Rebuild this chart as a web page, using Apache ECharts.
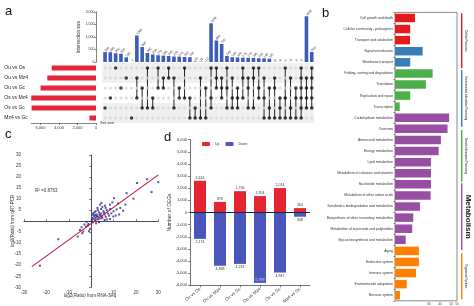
<!DOCTYPE html>
<html>
<head>
<meta charset="utf-8">
<script src="https://cdn.jsdelivr.net/npm/echarts@6/dist/echarts.min.js"></script>
<style>
  html, body { margin: 0; padding: 0; background: #fff; }
  #main { width: 474px; height: 306px; }
</style>
</head>
<body>
<div id="main"></div>
<script>
// ---- panel a : upset ----
var setNames = ['Ou vs Os', 'Ou vs Mz4', 'Ou vs Gc', 'Os vs Mz4', 'Os vs Gc', 'Mz4 vs Gc'];
var setSizes = [4790, 5264, 5989, 7153, 6961, 712];
var interSizes = [395, 390, 350, 330, 185, 1,
  1060, 600, 360, 300, 270, 255, 240, 220, 215, 200, 190, 20, 15, 10,
  1548, 860, 720, 240, 190, 180, 175, 170, 165, 150, 145, 130, 8, 6, 5, 4, 3, 2, 1828, 400];
var interSets = [[4], [3], [0], [2], [1], [5],
  [1, 3], [2, 4], [0, 4], [3, 4], [0, 2], [1, 2], [0, 1], [1, 4], [2, 3], [0, 3], [3, 5], [4, 5], [1, 5], [2, 5],
  [0, 3, 4], [0, 1, 2], [1, 2, 3], [0, 2, 4], [1, 3, 4], [2, 3, 4], [0, 1, 3], [1, 2, 4], [0, 1, 4], [0, 2, 3], [1, 3, 5], [2, 4, 5],
  [1, 2, 5], [3, 4, 5], [0, 3, 5], [1, 4, 5], [2, 3, 5], [0, 1, 2, 3, 4, 5], [1, 2, 3, 4], [0, 1, 2, 3, 4]];

// ---- panel b : KEGG ----
var keggTerms = ['Cell growth and death', 'Cellular community - prokaryotes', 'Transport and catabolism',
  'Signal transduction', 'Membrane transport',
  'Folding, sorting and degradation', 'Translation', 'Replication and repair', 'Transcription',
  'Carbohydrate metabolism', 'Overview', 'Amino acid metabolism', 'Energy metabolism', 'Lipid metabolism',
  'Metabolism of cofactors and vitamins', 'Nucleotide metabolism', 'Metabolism of other amino acids',
  'Xenobiotics biodegradation and metabolism', 'Biosynthesis of other secondary metabolites',
  'Metabolism of terpenoids and polyketides', 'Glycan biosynthesis and metabolism',
  'Aging', 'Endocrine system', 'Immune system', 'Environmental adaptation', 'Nervous system'];
var keggValues = [17.7, 13.5, 13.3, 24.5, 13.5, 33.4, 27.4, 13.5, 4.2, 48, 46.6, 40.7, 38.7, 31.9, 31.9, 31.9, 31.6,
  22.1, 16.2, 15.3, 9.5, 21.2, 21.2, 18.6, 10.4, 4.4];
var keggGroup = [0, 0, 0, 1, 1, 2, 2, 2, 2, 3, 3, 3, 3, 3, 3, 3, 3, 3, 3, 3, 3, 4, 4, 4, 4, 4];
var groupNames = ['Cellular Processes', 'Environmental Information Processing', 'Genetic Information Processing', 'Metabolism', 'Organismal Systems'];
var groupColors = ['#e41a1c', '#377eb8', '#4daf4a', '#984ea3', '#ff7f00'];

// ---- panel c : qRT-PCR vs RNA-Seq ----
var scatterPts = [[25, 19], [20.5, 17.3], [30, 17.7], [27, 13.2], [15.8, 12.7], [18.9, 10.2], [10.2, 10.4], [14.3, 4.7],
  [15.3, 7.5], [11.4, 5.3], [8.4, 7.5], [4.6, 8.3], [9.9, 2.1], [8.4, 1], [12, 8], [-22.9, -20.2], [-14.7, -8.2],
  [-6, -7], [-3.5, -4.7], [-4.3, -2.8], [-2.3, -2.5], [-1.2, -1.3], [-2, -0.3], [-0.5, -3.5], [-3, -1.5], [-5, -4],
  [-1.5, -2], [1, 1], [1.5, 2], [2, 1.5], [2.5, 3], [3, 2], [3.5, 4], [4, 2.5], [4.5, 3.5], [5, 1.5], [5.5, 4.5],
  [6, 3], [6.5, 2], [7, 5], [7.5, 3.5], [8, 2.5], [2, 4.5], [3, 5], [1, 3.5], [0.5, 1.5], [1.8, 0.5], [3.2, 0.8],
  [4.2, 1.2], [6, 0.5], [2.8, 6], [5, 6.5], [4, 7.5], [6.5, 6], [0.8, -0.5], [2.2, -1], [3.5, -0.5], [7, 0.8],
  [9, 3.5], [10, 4.5], [12.5, 3], [8.5, 5.5], [1.2, 2.6], [2.6, 2.2], [3.8, 3.1], [4.8, 2.2], [5.8, 3.8], [1.5, 4],
  [0.3, 0.5], [2, 2.8], [9.5, 8.5], [13, 6], [-1, -4.5], [-4, -5.5], [0.5, 3], [4.5, 5.5], [6.2, 7], [11, 2.5]];
var fitLine = [[-26.5, -20.6], [30, 21]];
var r2Text = 'R\u00b2 =0.8763';

// ---- panel d : DEG counts ----
var compNames = ['Ou vs Os', 'Ou vs Mz4', 'Ou vs Gc', 'Os vs Mz4', 'Os vs Gc', 'Mz4 vs Gc'];
var upCounts = [2616, 876, 1756, 1354, 2014, 364];
var downCounts = [-2174, -4388, -4233, -5799, -4947, -348];

var FONT = 'Liberation Sans, Arial, sans-serif';
var chart = echarts.init(document.getElementById('main'));

var colIdx = interSizes.map(function (v, i) { return i; });
var greyDots = [], blackDots = [], links = [];
interSets.forEach(function (s, c) {
  for (var r = 0; r < 6; r++) {
    if (s.indexOf(r) < 0) greyDots.push([c, r]); else blackDots.push([c, r]);
  }
  if (s.length > 1) links.push([c, Math.min.apply(null, s), Math.max.apply(null, s)]);
});

function fmt(v) { return Math.abs(v).toLocaleString('en-US'); }

var option = {
  animation: false,
  backgroundColor: '#fff',
  textStyle: { fontFamily: FONT },
  legend: {
    data: ['Up', 'Down'], left: 197, top: 137, itemWidth: 8, itemHeight: 4, itemGap: 6,
    textStyle: { fontSize: 3.5, color: '#333', fontFamily: FONT }
  },
  grid: [
    { left: 102.4, top: 12, width: 212, height: 50 },
    { left: 102.4, top: 63, width: 212, height: 60 },
    { left: 31.25, top: 63, width: 64.75, height: 60 },
    { left: 24, top: 155, width: 134.3, height: 132.3 },
    { left: 190, top: 139.7, width: 120, height: 152 },
    { left: 395, top: 12.4, width: 62, height: 288.4, show: true, borderColor: '#555', borderWidth: 0.7 }
  ],
  xAxis: [
    { gridIndex: 0, type: 'category', data: colIdx, axisLabel: { show: false }, axisTick: { show: false },
      axisLine: { show: false } },
    { gridIndex: 1, type: 'category', data: colIdx, show: false },
    { gridIndex: 2, type: 'value', inverse: true, min: 0, max: 7000, interval: 2000,
      name: 'Set size', nameLocation: 'start', nameGap: 4,
      nameTextStyle: { fontSize: 4, color: '#333', verticalAlign: 'middle' },
      axisLine: { show: true, lineStyle: { color: '#333', width: 0.6 } },
      axisTick: { show: true, length: 2, lineStyle: { color: '#333', width: 0.6 } },
      axisLabel: { fontSize: 4, color: '#333', margin: 3, showMaxLabel: false }, splitLine: { show: false } },
    { gridIndex: 3, type: 'value', min: -30, max: 30, interval: 10,
      axisLine: { onZero: true, lineStyle: { color: '#222', width: 0.8 } },
      axisTick: { show: true, length: 2, inside: true, lineStyle: { color: '#222', width: 0.6 } },
      axisLabel: { fontSize: 4.5, color: '#333', margin: 3, formatter: function (v) { return v === 0 ? '' : v; } },
      splitLine: { show: false } },
    { gridIndex: 4, type: 'category', data: compNames, position: 'bottom',
      axisLine: { onZero: false, lineStyle: { color: '#333', width: 0.7 } },
      axisTick: { show: true, alignWithLabel: true, length: 2, lineStyle: { color: '#333', width: 0.6 } },
      axisLabel: { fontSize: 4.5, color: '#333', rotate: 40, margin: 3, interval: 0 } },
    { gridIndex: 5, type: 'value', min: 0, max: 55, interval: 10,
      axisLine: { show: false }, axisTick: { show: false },
      axisLabel: { fontSize: 3.2, color: '#444', margin: 2, formatter: function (v) { return v < 30 ? '' : v; } },
      splitLine: { show: false } }
  ],
  yAxis: [
    { gridIndex: 0, type: 'value', min: 0, max: 2000, interval: 500, offset: 6,
      name: 'Intersection size', nameLocation: 'middle', nameGap: 13,
      nameTextStyle: { fontSize: 4.5, color: '#333' },
      axisLine: { show: true, lineStyle: { color: '#333', width: 0.6 } },
      axisTick: { show: true, length: 2, lineStyle: { color: '#333', width: 0.6 } },
      axisLabel: { fontSize: 3.5, color: '#333', margin: 2 }, splitLine: { show: false } },
    { gridIndex: 1, type: 'category', data: setNames, inverse: true,
      axisLine: { show: false }, axisTick: { show: false }, axisLabel: { show: false },
      splitArea: { show: true, areaStyle: { color: ['#f0f0f0', '#ffffff'] } } },
    { gridIndex: 2, type: 'category', data: setNames, inverse: true,
      axisLine: { show: false }, axisTick: { show: false },
      axisLabel: { fontSize: 5, color: '#222', align: 'left', margin: 27 } },
    { gridIndex: 3, type: 'value', min: -30, max: 30, interval: 5,
      axisLine: { onZero: true, lineStyle: { color: '#222', width: 0.8 } },
      axisTick: { show: true, length: 2, lineStyle: { color: '#222', width: 0.6 } },
      axisLabel: { fontSize: 4.5, color: '#333', margin: 3, formatter: function (v) { return v === 0 ? '' : v; } },
      splitLine: { show: false } },
    { gridIndex: 4, type: 'value', min: -6000, max: 6000, interval: 1000,
      name: 'Number of DEGs', nameLocation: 'middle', nameGap: 17,
      nameTextStyle: { fontSize: 5, color: '#333' },
      axisLine: { show: true, lineStyle: { color: '#333', width: 0.7 } },
      axisTick: { show: true, length: 2, lineStyle: { color: '#333', width: 0.6 } },
      axisLabel: { fontSize: 4, color: '#333', margin: 3, formatter: function (v) { return v.toLocaleString('en-US'); } },
      splitLine: { show: false } },
    { gridIndex: 5, type: 'category', data: keggTerms, inverse: true,
      axisLine: { show: false },
      axisTick: { show: true, length: 1.5, lineStyle: { color: '#333', width: 0.6 } },
      axisLabel: { fontSize: 3.4, color: '#333', margin: 2, interval: 0 } }
  ],
  series: [
    { type: 'bar', xAxisIndex: 0, yAxisIndex: 0, data: interSizes, barWidth: 3.6,
      itemStyle: { color: '#3d5bb8' },
      label: { show: true, position: 'top', rotate: 45, align: 'left', verticalAlign: 'middle', distance: 1,
        fontSize: 3.2, color: '#333', fontFamily: FONT } },
    { type: 'scatter', xAxisIndex: 1, yAxisIndex: 1, data: greyDots, symbolSize: 3.2,
      itemStyle: { color: '#d6d6d6' }, silent: true },
    { type: 'custom', xAxisIndex: 1, yAxisIndex: 1, data: links,
      renderItem: function (params, api) {
        var p1 = api.coord([api.value(0), api.value(1)]);
        var p2 = api.coord([api.value(0), api.value(2)]);
        return { type: 'line', shape: { x1: p1[0], y1: p1[1], x2: p2[0], y2: p2[1] },
          style: { stroke: '#222', lineWidth: 1 } };
      } },
    { type: 'scatter', xAxisIndex: 1, yAxisIndex: 1, data: blackDots, symbolSize: 3.6,
      itemStyle: { color: '#111' }, z: 5 },
    { type: 'bar', xAxisIndex: 2, yAxisIndex: 2, data: setSizes, barWidth: 5,
      itemStyle: { color: '#e5263a' } },
    { type: 'scatter', xAxisIndex: 3, yAxisIndex: 3, data: scatterPts, symbol: 'rect', symbolSize: 2,
      itemStyle: { color: '#2b2b90' } },
    { type: 'line', xAxisIndex: 3, yAxisIndex: 3, data: fitLine, symbol: 'none',
      lineStyle: { color: '#c2163f', width: 1.1 } },
    { name: 'Up', type: 'bar', xAxisIndex: 4, yAxisIndex: 4, data: upCounts, barWidth: 12, barGap: '-100%',
      itemStyle: { color: '#e5252f' },
      label: { show: true, position: 'top', distance: 1, fontSize: 3.5, color: '#333', formatter: function (p) { return fmt(p.value); } },
      markLine: { silent: true, symbol: 'none', label: { show: false },
        lineStyle: { color: '#1f2433', width: 1.2, type: 'solid' }, data: [{ yAxis: 0 }] } },
    { name: 'Down', type: 'bar', xAxisIndex: 4, yAxisIndex: 4, barWidth: 12, barGap: '-100%',
      data: downCounts.map(function (v, i) {
        if (v < -5500) return { value: v, label: { position: 'insideBottom', color: '#dde' } };
        return v;
      }),
      itemStyle: { color: '#4a56bb' },
      label: { show: true, position: 'bottom', distance: 1, fontSize: 3.5, color: '#333', formatter: function (p) { return fmt(p.value); } } },
    { type: 'bar', xAxisIndex: 5, yAxisIndex: 5, barWidth: 8.5,
      data: keggValues.map(function (v, i) { return { value: v, itemStyle: { color: groupColors[keggGroup[i]] } }; }) }
  ],
  graphic: []
};

// panel letters and free texts
var g = option.graphic;
[['a', 5, 5], ['b', 322, 7], ['c', 5, 128], ['d', 164, 131]].forEach(function (t) {
  g.push({ type: 'text', left: t[1], top: t[2], style: { text: t[0], fontSize: 13, fontFamily: FONT, fill: '#111' } });
});
g.push({ type: 'text', x: 35, y: 188, style: { text: r2Text, fontSize: 4.5, fontFamily: FONT, fill: '#333' } });
g.push({ type: 'text', x: 90, y: 296, style: { text: 'log2(Ratio) from RNA-Seq', fontSize: 4.5, fontFamily: FONT, fill: '#333', align: 'center', verticalAlign: 'middle' } });
g.push({ type: 'text', x: 13, y: 221, rotation: Math.PI / 2, style: { text: 'log2(Ratio) from qRT-PCR', fontSize: 4.5, fontFamily: FONT, fill: '#333', align: 'center', verticalAlign: 'middle' } });

// group strips for panel b
var stripY = [[13.3, 68.3], [70, 126.7], [130, 181.7], [183.3, 250], [253.3, 299.3]];
stripY.forEach(function (s, i) {
  g.push({ type: 'rect', shape: { x: 461, y: s[0], width: 1.4, height: s[1] - s[0] }, style: { fill: groupColors[i] } });
  var big = i === 3;
  g.push({ type: 'text', x: big ? 468 : 466, y: (s[0] + s[1]) / 2, rotation: -Math.PI / 2,
    style: { text: groupNames[i], fontSize: big ? 8 : 2.6, fontWeight: big ? 'bold' : 'normal', fontFamily: FONT,
      fill: '#222', align: 'center', verticalAlign: 'middle' } });
});

chart.setOption(option);
</script>
</body>
</html>
